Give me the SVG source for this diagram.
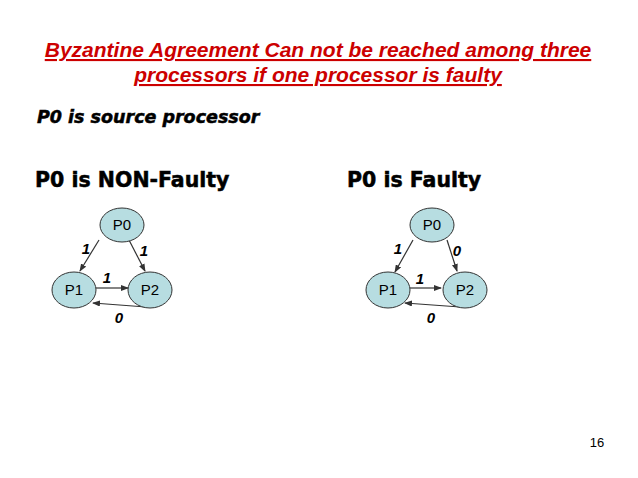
<svg xmlns="http://www.w3.org/2000/svg" width="638" height="478" viewBox="0 0 638 478">
<style>
.t{font-family:"Liberation Sans",Arial,sans-serif;font-weight:bold;font-style:italic;fill:#cc0000;font-size:21px;text-decoration:underline}
.h{font-family:"DejaVu Sans",sans-serif;font-weight:bold;fill:#000;stroke:#000;stroke-width:0.5}
.l{font-family:"Liberation Sans",Arial,sans-serif;font-size:15px;font-weight:bold;font-style:italic;text-anchor:middle}
.c line{stroke:#333;stroke-width:1.2;marker-end:url(#a)}
</style>
<defs><marker id="a" markerWidth="8" markerHeight="6" refX="7" refY="3" orient="auto" markerUnits="userSpaceOnUse"><path d="M0,0L8,3L0,6z" fill="#333"/></marker></defs>
<text class="t" x="318" y="57" text-anchor="middle">Byzantine Agreement Can not be reached among three</text>
<text class="t" x="318" y="82" text-anchor="middle">processors if one processor is faulty</text>
<text class="h" x="37" y="123" font-size="17.5" font-style="italic">P0 is source processor</text>
<text class="h" x="35" y="187" font-size="20.5">P0 is NON-Faulty</text>
<text class="h" x="347" y="187" font-size="20.5">P0 is Faulty</text>
<g class="c">
<line x1="99" y1="240" x2="80" y2="271"/>
<line x1="129" y1="240" x2="145" y2="271"/>
<line x1="96" y1="288" x2="128" y2="288"/>
<line x1="146" y1="307" x2="93" y2="303"/>
<line x1="413" y1="240" x2="395" y2="272"/>
<line x1="447" y1="240" x2="457" y2="271"/>
<line x1="410" y1="288" x2="441" y2="288"/>
<line x1="460" y1="307" x2="405" y2="303"/>
</g>
<g id="L0"><ellipse cx="122" cy="225" rx="22" ry="17" fill="#b7dde1" stroke="#333"/><text x="122" y="230" font-family="Liberation Sans,sans-serif" font-size="15" text-anchor="middle">P0</text></g>
<g id="L1"><ellipse cx="74" cy="290" rx="22" ry="18" fill="#b7dde1" stroke="#333"/><text x="74" y="295" font-family="Liberation Sans,sans-serif" font-size="15" text-anchor="middle">P1</text></g>
<g id="L2"><ellipse cx="150" cy="290" rx="22" ry="18" fill="#b7dde1" stroke="#333"/><text x="150" y="295" font-family="Liberation Sans,sans-serif" font-size="15" text-anchor="middle">P2</text></g>
<g id="R0"><ellipse cx="432" cy="225" rx="22" ry="17" fill="#b7dde1" stroke="#333"/><text x="432" y="230" font-family="Liberation Sans,sans-serif" font-size="15" text-anchor="middle">P0</text></g>
<g id="R1"><ellipse cx="388" cy="290" rx="22" ry="18" fill="#b7dde1" stroke="#333"/><text x="388" y="295" font-family="Liberation Sans,sans-serif" font-size="15" text-anchor="middle">P1</text></g>
<g id="R2"><ellipse cx="465" cy="290" rx="22" ry="18" fill="#b7dde1" stroke="#333"/><text x="465" y="295" font-family="Liberation Sans,sans-serif" font-size="15" text-anchor="middle">P2</text></g>
<text class="l" x="86" y="254">1</text>
<text class="l" x="144" y="256">1</text>
<text class="l" x="107" y="283">1</text>
<text class="l" x="119" y="323">0</text>
<text class="l" x="398" y="254">1</text>
<text class="l" x="457" y="256">0</text>
<text class="l" x="420" y="284">1</text>
<text class="l" x="431" y="323">0</text>
<text x="597" y="447" font-family="Liberation Sans,sans-serif" font-size="13" text-anchor="middle">16</text>
</svg>
